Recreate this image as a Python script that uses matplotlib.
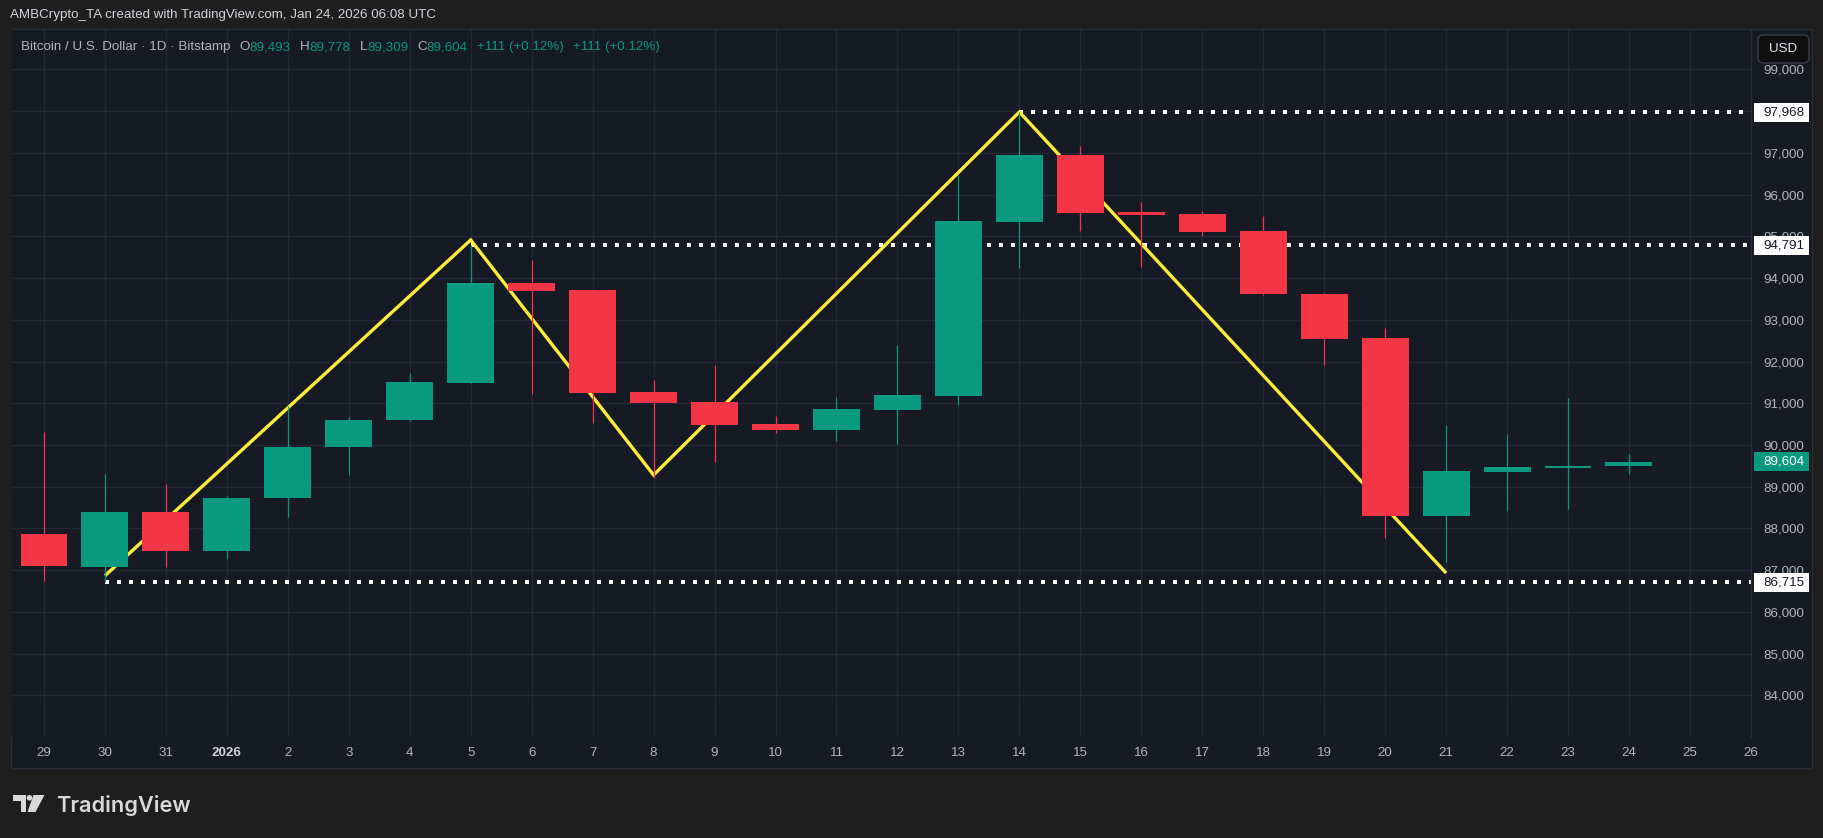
import matplotlib
matplotlib.use("Agg")
import matplotlib.pyplot as plt
from matplotlib.patches import Rectangle, FancyBboxPatch, Polygon, Ellipse
from matplotlib.transforms import blended_transform_factory
import numpy as np

# ---------------- data ----------------
day_labels = ['29', '30', '31', '2026', '2', '3', '4', '5', '6', '7', '8', '9', '10', '11',
              '12', '13', '14', '15', '16', '17', '18', '19', '20', '21', '22', '23', '24',
              '25', '26']
opens = [87868, 87084, 88395, 87467, 88730, 89952, 90599, 91490, 93882, 93714, 91270,
         91030, 90503, 90359, 90839, 91174, 95343, 96948, 95583, 95535, 95127, 93618,
         92564, 88306, 89360, 89456, 89493]
highs = [90311, 89305, 89066, 88771, 90934, 90671, 91725, 94791, 94433, 93714, 91557,
         91917, 90695, 91150, 92396, 96469, 97968, 97164, 95822, 95607, 95487, 93642,
         92803, 90479, 90264, 91126, 89778]
lows = [86730, 86715, 87084, 87276, 88282, 89288, 90575, 91486, 91229, 90534, 89202,
        89593, 90288, 90103, 90024, 90958, 94241, 95127, 94265, 95008, 93594, 91924,
        87779, 87204, 88419, 88467, 89309]
closes = [87108, 88395, 87467, 88730, 89952, 90599, 91509, 93882, 93690, 91246, 91006,
          90479, 90359, 90863, 91198, 95367, 96948, 95559, 95511, 95103, 93618, 92540,
          88306, 89377, 89473, 89497, 89604]

zigzag_idx = [1, 7, 10, 16, 23]
zigzag_val = [86868, 94912, 89281, 97979, 86933]

level_vals = [97968, 94791, 86715]
level_start = [16, 7, 1]
level_labels = ['97,968', '94,791', '86,715']

last_price = 89604
last_label = '89,604'

price_ticks = list(range(84000, 100000, 1000))

title_text = "AMBCrypto_TA created with TradingView.com, Jan 24, 2026 06:08 UTC"
symbol_text = "Bitcoin / U.S. Dollar \u00b7 1D \u00b7 Bitstamp"
ohlc_keys = ['O', 'H', 'L', 'C']
ohlc_vals = ['89,493', '89,778', '89,309', '89,604']
change_texts = ["+111 (+0.12%)", "+111 (+0.12%)"]

# ---------------- style ----------------
W, H = 1824, 838
OUTER = '#1e1e1e'
PANEL = '#161a25'
GRID = '#242836'
BORDER = '#2a2e39'
GREEN = '#089981'
RED = '#f23645'
YELLOW = '#ffeb3b'
TXT = '#b2b5be'
FONT = 'Liberation Sans'

def fx(x):
    return x / W

def fy(y):
    return 1 - y / H

fig = plt.figure(figsize=(W / 100, H / 100), dpi=100)
fig.patch.set_facecolor(OUTER)
renderer = fig.canvas.get_renderer()

def fit_width(t, target):
    w = t.get_window_extent(renderer).width
    if w > 0:
        t.set_fontsize(t.get_fontsize() * target / w)
    return t

def flow_text(x, y, s, color, size, family=FONT, weight='normal'):
    t = fig.text(fx(x), fy(y), s, color=color, fontsize=size, family=family,
                 fontweight=weight, ha='left', va='center', zorder=6)
    return x + t.get_window_extent(renderer).width

# chart panel
fig.patches.append(Rectangle((fx(11), fy(768)), fx(1812 - 11), (768 - 29) / H,
                             transform=fig.transFigure, facecolor=PANEL,
                             edgecolor=BORDER, lw=1.0, zorder=-1))

ax = fig.add_axes([fx(11), fy(737), (1751 - 11) / W, (737 - 30) / H])
ax.set_facecolor(PANEL)
ax.set_xlim(-0.541, 28.002)
ax.set_ylim(83004, 99943)

for s in ['top', 'left', 'bottom']:
    ax.spines[s].set_visible(False)
ax.spines['right'].set_color(BORDER)
ax.spines['right'].set_linewidth(1.0)

x_idx = np.arange(len(day_labels))
ax.set_xticks(x_idx)
ax.set_xticklabels(day_labels)
ax.set_yticks(price_ticks)
ax.set_yticklabels([f"{v:,}" for v in price_ticks])
ax.yaxis.tick_right()
ax.tick_params(axis='both', length=0, colors=TXT, labelsize=9.6)
ax.tick_params(axis='y', pad=8.6)
ax.tick_params(axis='x', pad=7)
for lbl in ax.get_xticklabels() + ax.get_yticklabels():
    lbl.set_fontfamily(FONT)
for lbl in ax.get_xticklabels():
    if lbl.get_text() == '2026':
        lbl.set_fontweight('bold')
        lbl.set_color('#d1d4dc')
ax.grid(True, color=GRID, lw=1.0, zorder=0)
ax.set_axisbelow(True)

# horizontal dotted levels
for v, s in zip(level_vals, level_start):
    ax.hlines(v, s, 28.002, colors='white', lw=2.88, linestyles=(0, (1, 2)),
              zorder=2).set_capstyle('butt')

# yellow zigzag
ax.plot(zigzag_idx, zigzag_val, color=YELLOW, lw=2.4, solid_joinstyle='miter',
        solid_capstyle='butt', zorder=3)

# candles
n = len(opens)
idx = np.arange(n)
o = np.array(opens); c = np.array(closes); hi = np.array(highs); lo = np.array(lows)
cols = [GREEN if cc >= oo else RED for oo, cc in zip(o, c)]
ax.vlines(idx, lo, hi, colors=cols, lw=0.9, zorder=4)
bottoms = np.minimum(o, c)
heights = np.maximum(np.abs(c - o), 30)
ax.bar(idx, heights, bottom=bottoms, width=0.77, color=cols, lw=0, zorder=5)

# price labels on the axis
bt = blended_transform_factory(ax.transAxes, ax.transData)
bx0 = (1754 - 11) / 1740
bw = 55 / 1740
bh = 19 * (99943 - 83004) / 707
for v, lab in zip(level_vals, level_labels):
    ax.add_patch(Rectangle((bx0, v - bh / 2), bw, bh, transform=bt, facecolor='white',
                           edgecolor='none', clip_on=False, zorder=6))
    ax.text((1763 - 11) / 1740, v, lab, transform=bt, color='#131722', fontsize=9.6,
            family=FONT, va='center', ha='left', clip_on=False, zorder=7)
ax.add_patch(Rectangle((bx0, last_price - bh / 2), bw, bh, transform=bt, facecolor=GREEN,
                       edgecolor='none', clip_on=False, zorder=6))
ax.text((1763 - 11) / 1740, last_price, last_label, transform=bt, color='white',
        fontsize=9.6, family=FONT, va='center', ha='left', clip_on=False, zorder=7)

# USD button
fig.patches.append(FancyBboxPatch((fx(1758), fy(63)), fx(51), 28 / H,
                                  boxstyle='round,pad=0,rounding_size=0.003',
                                  transform=fig.transFigure, facecolor='#0f0f10',
                                  edgecolor='#3a3d45', lw=1.0, zorder=5,
                                  mutation_aspect=W / H))
fig.text(fx(1783.5), fy(49), 'USD', color='#e0e3eb', fontsize=9.6, family=FONT,
         ha='center', va='center', zorder=6)

# title
flow_text(10, 15, title_text, '#d1d4dc', 9.6)

# header line (flowed left to right)
HS = 9.6
x = flow_text(21, 47, symbol_text, TXT, HS)
x += 9
for k, v in zip(ohlc_keys, ohlc_vals):
    x = flow_text(x, 47, k, TXT, HS)
    x = flow_text(x, 47, v, GREEN, HS)
    x += 9
for ctext in change_texts:
    x = flow_text(x, 47, ctext, GREEN, HS)
    x += 9

# TradingView logo
LOGO = '#d9d9d9'
fig.patches.append(Polygon([(fx(13), fy(795)), (fx(26.5), fy(795)), (fx(26.5), fy(812)),
                            (fx(21), fy(812)), (fx(21), fy(800.5)), (fx(13), fy(800.5))],
                           closed=True, transform=fig.transFigure, facecolor=LOGO,
                           edgecolor='none', zorder=5))
fig.patches.append(Ellipse((fx(29.5), fy(797.8)), fx(5.6), 5.6 / H,
                           transform=fig.transFigure, facecolor=LOGO, edgecolor='none',
                           zorder=5))
fig.patches.append(Polygon([(fx(33.5), fy(795)), (fx(44.5), fy(795)), (fx(35.5), fy(812)),
                            (fx(27.5), fy(812))], closed=True, transform=fig.transFigure,
                           facecolor=LOGO, edgecolor='none', zorder=5))
t = fig.text(fx(56), fy(811.5), 'TradingView', color=LOGO, fontsize=16, family='Inter',
             fontweight='semibold', ha='left', va='baseline', zorder=6)
fit_width(t, 134)

fig.savefig('out.png', dpi=100, facecolor=fig.get_facecolor())
